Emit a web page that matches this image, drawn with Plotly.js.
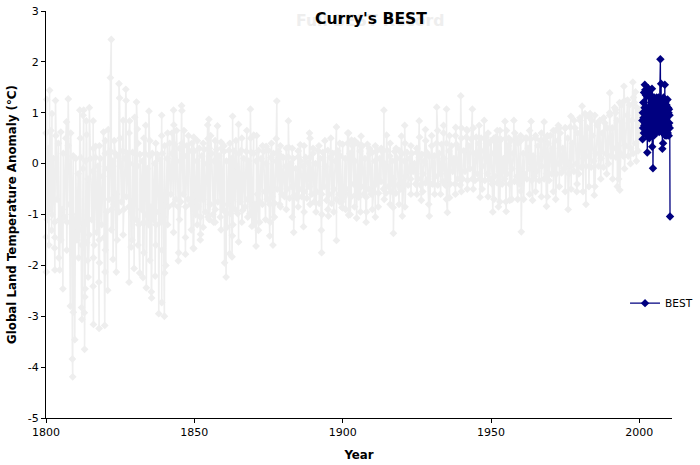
<!DOCTYPE html>
<html><head><meta charset="utf-8">
<script src="https://cdn.plot.ly/plotly-3.0.1.min.js"></script>
<style>html,body{margin:0;padding:0;background:#fff}</style></head>
<body><div id="chart" style="width:700px;height:465px"></div>
<script>
// Dense body of the full record, read decade by decade (start year, values)
const d1800=[.6,-1.1,.3,-.9,.65,-1.0,.1,-1.15,.55,-.7,.4,-1.1,.62,-.9,.2,-1.05,.5,-1.15,.35,-.8,.6,-1.0,.15,-1.1];
const d1810=[.1,-1.5,-.2,-1.3,.12,-1.6,-.1,-1.2,.05,-1.55,-.3,-1.4,.1,-1.1,-.15,-1.6,.12,-1.35,-.05,-1.5,.1,-1.2,-.25,-1.45];
const d1820=[.2,-.95,-.1,-.7,.25,-.9,.05,-.8,.2,-.6,.15,-.95,-.05,-.75,.25,-.9,.1,-.65,.2,-.85,0,-.95,.22,-.7];
const d1830=[.2,-1.1,-.05,-1.2,.18,-.9,.05,-1.15,.2,-1.0,-.1,-1.2,.15,-.85,.2,-1.1,0,-1.2,.18,-.95,.08,-1.15,.2,-1.05];
const d1840=[.35,-.8,.1,-.85,.4,-.6,.2,-.8,.38,-.7,.05,-.85,.3,-.75,.4,-.6,.15,-.85,.35,-.7,.25,-.8,.4,-.65];
const d1850=[.25,-1.0,.05,-.85,.3,-1.05,.15,-.7,.28,-.95,0,-1.05,.3,-.8,.2,-1.0,.05,-.9,.28,-.75,.15,-1.05,.3,-.9];
const d1860=[.24,-.95,.05,-.8,.26,-.98,.1,-.7,.25,-.9,-.05,-.98,.2,-.75,.26,-.92,.1,-.85,.24,-.7,.05,-.98,.22,-.8];
const d1870=[.2,-.8,.05,-.6,.26,-.75,.1,-.8,.24,-.55,0,-.7,.26,-.8,.12,-.65,.2,-.78,.05,-.5,.24,-.8,.15,-.6];
const d1880=[.12,-.65,-.05,-.5,.13,-.68,0,-.45,.1,-.62,-.1,-.68,.13,-.5,.05,-.65,-.05,-.55,.12,-.68,.02,-.45,.13,-.6];
const d1890=[.2,-.75,0,-.55,.26,-.78,.1,-.6,.22,-.45,-.05,-.72,.26,-.6,.12,-.78,.2,-.5,.05,-.7,.25,-.6,.15,-.75];
const d1900=[.38,-.66,.1,-.5,.4,-.6,.2,-.65,.35,-.4,.05,-.6,.4,-.66,.25,-.45,.35,-.6,.1,-.66,.38,-.5,.2,-.6];
const d1910=[.22,-.55,.05,-.4,.26,-.58,.1,-.35,.24,-.5,0,-.58,.26,-.45,.15,-.55,.05,-.3,.24,-.58,.1,-.42,.25,-.5];
const d1920=[.2,-.4,.05,-.25,.22,-.42,.1,-.3,.2,-.15,0,-.4,.22,-.3,.12,-.42,.18,-.2,.05,-.38,.22,-.3,.15,-.4];
const d1930=[.35,-.4,.15,-.25,.4,-.42,.2,-.2,.38,-.35,.1,-.42,.4,-.3,.25,-.4,.35,-.15,.1,-.4,.38,-.3,.3,-.42];
const d1940=[.5,-.3,.25,-.15,.52,-.33,.35,-.1,.48,-.3,.2,-.33,.52,-.2,.4,-.3,.5,-.05,.25,-.33,.52,-.2,.4,-.3];
const d1950=[.45,-.4,.2,-.25,.5,-.38,.3,-.15,.48,-.4,.1,-.3,.5,-.2,.35,-.4,.45,-.1,.2,-.35,.5,-.25,.4,-.4];
const d1960=[.45,-.33,.2,-.2,.5,-.3,.3,-.1,.48,-.33,.15,-.25,.5,-.15,.35,-.33,.45,-.05,.2,-.3,.5,-.2,.4,-.33];
const d1970=[.55,-.2,.3,-.05,.65,-.2,.45,0,.6,-.18,.3,-.1,.7,.05,.5,-.2,.72,-.05,.4,-.15,.7,0,.6,-.2];
const d1980=[.85,-.07,.5,.1,.98,-.05,.7,.15,.9,-.07,.55,.05,.95,.2,.75,-.05,.85,.1,.6,-.07,.8,.2,.7,0];
const d1990=[.95,.15,.7,.3,1.1,.13,.85,.35,1.2,.2,.8,.15,1.24,.35,.95,.15,1.15,.3,.85,.2,1.2,.4,1.1,.25];
const d2000=[1.0,.5,1.1,.6];
const decades=[[1800,d1800],[1810,d1810],[1820,d1820],[1830,d1830],[1840,d1840],[1850,d1850],[1860,d1860],[1870,d1870],[1880,d1880],[1890,d1890],[1900,d1900],[1910,d1910],[1920,d1920],[1930,d1930],[1940,d1940],[1950,d1950],[1960,d1960],[1970,d1970],[1980,d1980],[1990,d1990],[2000,d2000]];

// Individually readable spikes above the body: [year, anomaly]
const peaks=[[1800.2,1.26],[1801.2,1.44],[1802,.98],[1803.2,1.24],[1806.9,.82],[1807.5,1.27],[1811.4,1.05],[1811.6,.5],[1812.5,.95],[1812.7,1.05],[1813.6,.84],[1813.7,.57],[1814.6,1.1],[1815.9,.84],[1816.7,.34],[1819.4,.62],[1821,.67],[1821.7,1.69],[1822,2.44],[1824.6,1.57],[1824.8,1.29],[1826,.85],[1826.9,1.46],[1827,1.24],[1828.2,.84],[1829.9,.91],[1830.5,1.21],[1830.8,.68],[1833.6,.75],[1834.7,1.03],[1839,.95],[1843,1.05],[1843.1,.76],[1845.7,1.14],[1845.8,1.04],[1849.8,.52],[1854.5,.76],[1854.6,.49],[1854.9,.87],[1857.8,.74],[1859,.42],[1862.9,.93],[1864.9,.77],[1867.7,.65],[1868.9,1.07],[1870,.56],[1874.2,.34],[1877.6,.49],[1877.8,1.23],[1881.7,.84],[1881.8,.32],[1885.7,.37],[1888.8,.6],[1889,.5],[1897.9,.72],[1901.7,.6],[1902,.6],[1903,.46],[1906.2,.54],[1913.9,1.05],[1914.8,.56],[1919.8,.54],[1920.9,.75],[1925.8,.84],[1925.9,.52],[1927.9,.67],[1931.7,1.11],[1934,.6],[1935,1.07],[1938.1,.71],[1939.8,1.33],[1941.8,.67],[1943.7,1.07],[1947.7,.85],[1951.6,.52],[1952.1,.65],[1953,.65],[1954.7,.83],[1955.2,.65],[1957.7,.85],[1963,.65],[1963.5,.83],[1967.9,.82],[1972.7,.75],[1976.9,.93],[1980.7,1.13],[1983.4,.98],[1990,1.39],[1992,1.06],[1994.8,1.52],[1997.8,1.6],[1998.7,1.41]];
// Individually readable spikes below the body: [year, anomaly]
const troughs=[[1800,-1.44],[1800.1,-2.13],[1801.9,-1.31],[1802.9,-1.66],[1803,-2.09],[1804.3,-1.85],[1804.6,-2.09],[1805.7,-2.46],[1808.2,-2.8],[1808.9,-3.84],[1809,-4.19],[1809.2,-2.92],[1809.7,-3.46],[1812,-2.83],[1812.1,-3.06],[1812.9,-2.93],[1813,-3.65],[1813.1,-2.62],[1813.2,-2.46],[1814.2,-2.23],[1815.9,-2.41],[1816,-3.16],[1817.8,-2.33],[1817.9,-3.24],[1819.8,-3.18],[1819.9,-2.13],[1820.8,-2.49],[1822.6,-1.88],[1823.7,-2.13],[1828,-2.33],[1828.7,-1.64],[1829.7,-2.06],[1831.6,-2.15],[1832.7,-2.24],[1833.8,-2.44],[1835.5,-2.52],[1835.6,-2.64],[1836.8,-2.21],[1838,-2.95],[1839,-2.73],[1839.9,-3.0],[1840,-2.15],[1840.4,-2.0],[1844.6,-1.91],[1844.7,-1.75],[1847,-1.78],[1849.6,-1.66],[1849.8,-1.67],[1852,-1.5],[1852.1,-1.39],[1856.5,-1.15],[1860.2,-1.95],[1860.7,-2.23],[1861.9,-1.77],[1862.7,-1.83],[1862.8,-1.42],[1864.9,-1.54],[1869.4,-1.23],[1870.8,-1.62],[1871.6,-1.31],[1875.4,-1.42],[1875.6,-1.15],[1876.5,-1.6],[1883.5,-1.35],[1886.8,-1.24],[1892.8,-1.31],[1892.9,-1.75],[1895.2,-1.03],[1897.9,-1.51],[1899.8,-.86],[1900,-.87],[1902,-1.01],[1902.5,-1.0],[1904.7,-1.07],[1907.9,-1.15],[1911,-1.05],[1917,-.86],[1917.1,-1.37],[1920.1,-1.03],[1926.5,-.72],[1929.2,-1.03],[1935.3,-.96],[1936,-.67],[1946.3,-.66],[1950.6,-.95],[1952.5,-.85],[1955.1,-.94],[1956.3,-.72],[1960,-.54],[1960.2,-1.34],[1964,-.72],[1968.7,-.84],[1971.8,-.7],[1976,-.9],[1978.9,-.55],[1982,-.8],[1984.8,-.62],[1992.6,-.45],[1993.4,-.52]];
// Shoulders just outside the body, which give its jagged edge: [year, anomaly]
const upperEdge=[[1816,.3],[1818,.35],[1820,.45],[1823,.45],[1825,.5],[1828,.6],[1831,.4],[1833,.5],[1835,.45],[1837,.4],[1839,.55],[1841,.6],[1842.5,.6],[1844,.65],[1846.5,.65],[1848,.55],[1851,.45],[1853,.4],[1855.5,.55],[1857,.45],[1860,.35],[1862,.4],[1864,.45],[1866,.5],[1869,.5],[1871,.55],[1873,.35],[1876,.4],[1879,.35],[1881,.3],[1883,.3],[1885,.25],[1887,.35],[1890,.3],[1892,.35],[1894,.45],[1896,.5],[1899,.4],[1904,.45],[1906,.35],[1909,.3],[1911,.35],[1913,.3],[1916,.4],[1918,.3],[1921,.4],[1923,.35],[1925,.3],[1928,.45],[1930,.55],[1932,.65],[1934,.75],[1936,.55],[1938,.55],[1940,.7],[1942,.65],[1944,.7],[1946,.75],[1949,.6],[1951,.5],[1953,.45],[1956,.5],[1958,.6],[1960,.55],[1962,.5],[1965,.55],[1967,.6],[1969,.55],[1971,.65],[1973,.7],[1975,.7],[1978,.85],[1980,.9],[1982,.95],[1984,.85],[1986,.8],[1988,.9],[1990,1.0],[1992,1.0],[1994,1.15],[1996,1.25],[1998,1.3]];
const lowerEdge=[[1801,-1.6],[1803,-1.45],[1805,-1.5],[1807,-1.7],[1809,-1.8],[1811,-1.85],[1814,-1.9],[1816,-1.85],[1818,-1.95],[1820,-1.7],[1822,-1.3],[1824,-1.5],[1826,-1.4],[1829,-1.5],[1831,-1.6],[1833,-1.75],[1835,-1.9],[1837,-1.6],[1839,-1.7],[1841,-1.2],[1843,-1.35],[1845,-1.1],[1847,-1.45],[1849,-1.3],[1851,-1.2],[1853,-1.25],[1855,-1.1],[1857,-1.15],[1859,-1.3],[1861,-1.25],[1863,-1.2],[1866,-1.15],[1868,-1.05],[1870,-1.2],[1872,-1.15],[1874,-1.1],[1877,-1.05],[1879,-.85],[1881,-.9],[1883,-1.05],[1885,-.85],[1887,-.95],[1889,-.8],[1891,-.95],[1893,-1.0],[1895,-.9],[1897,-.95],[1899,-.75],[1901,-.9],[1904,-.85],[1906,-.95],[1908,-.95],[1910,-.9],[1912,-.85],[1914,-.7],[1916,-.8],[1919,-.8],[1921,-.85],[1923,-.6],[1925,-.6],[1927,-.55],[1929,-.8],[1931,-.6],[1933,-.6],[1935,-.7],[1938,-.6],[1940,-.55],[1942,-.5],[1944,-.5],[1947,-.5],[1949,-.65],[1951,-.7],[1953,-.75],[1955,-.75],[1957,-.7],[1959,-.7],[1961,-.7],[1963,-.6],[1965,-.55],[1967,-.65],[1969,-.65],[1971,-.55],[1973,-.45],[1975,-.55],[1977,-.5],[1979,-.4],[1981,-.55],[1983,-.45],[1985,-.45],[1987,-.3],[1989,-.2],[1991,-.3],[1993,-.3],[1995,-.1],[1997,0],[1999,.05]];

// BEST monthly values, Jan 2001 to May 2010
const best2001=[.85,.48,1.0,.7,1.2,.9,.6,1.4,.75,1.1,1.55,.8];
const best2002=[1.45,.9,1.35,.6,1.4,.85,.55,1.1,.22,.7,1.0,.75];
const best2003=[1.48,1.0,.7,1.4,.5,.9,1.3,.75,1.1,.6,1.35,.95];
const best2004=[1.2,.7,1.0,1.47,.33,.8,1.1,-.09,.6,1.05,.9,.55];
const best2005=[1.3,.8,1.15,.65,1.0,.6,1.25,.9,1.1,.7,1.3,.85];
const best2006=[.95,.65,1.2,.8,1.05,.7,1.3,.9,.62,1.1,.75,1.25];
const best2007=[1.25,2.05,.9,1.1,1.57,.7,1.2,.62,1.0,.29,.85,1.15];
const best2008=[.4,.85,1.3,.6,1.1,.75,1.0,1.55,.55,1.2,.8,.6];
const best2009=[.95,.7,1.15,.55,1.0,.8,1.26,.6,1.1,.75,1.0,.55];
const best2010=[1.07,.8,.95,.7,-1.04];
const bestStartYear=2001;

const xTicks=[1800,1850,1900,1950,2000];
const yTicks=[-5,-4,-3,-2,-1,0,1,2,3];
const yTickLabels=['-5','-4','-3','-2','-1','0','1','2','3'];

const full=[];
decades.forEach(([start,vals])=>vals.forEach((v,i)=>full.push([start+i*10/24,v])));
peaks.concat(troughs,upperEdge,lowerEdge).forEach(p=>full.push(p));
full.sort((a,b)=>a[0]-b[0]);

const bestVals=[].concat(best2001,best2002,best2003,best2004,best2005,best2006,best2007,best2008,best2009,best2010);
const bestYears=bestVals.map((_,i)=>bestStartYear+i/12);

const font='"DejaVu Sans", Verdana, sans-serif';
const W=700,H=465,L=45.5,R=672,T=10.5,B=418;
const data=[
 {type:'scatter',mode:'lines+markers',name:'Full record',showlegend:false,hoverinfo:'skip',
  x:full.map(p=>p[0]),y:full.map(p=>p[1]),cliponaxis:false,
  line:{color:'#eeeeee',width:1.6},marker:{symbol:'diamond',size:6,color:'#eeeeee'}},
 {type:'scatter',mode:'lines+markers',name:'BEST',cliponaxis:false,
  x:bestYears,y:bestVals,
  line:{color:'#000080',width:1.3},marker:{symbol:'diamond',size:6.5,color:'#000080'}}
];
const layout={
 width:W,height:H,paper_bgcolor:'#fff',plot_bgcolor:'#fff',
 margin:{l:L,r:W-R,t:T,b:H-B,pad:0,autoexpand:false},
 font:{family:font,size:11,color:'#000'},
 title:{text:"Curry's BEST",font:{family:font,size:15.6,color:'#000',weight:'bold'},
   x:371/W,xanchor:'center',y:1-19/H,yanchor:'middle'},
 xaxis:{range:[1800,2011],tickmode:'array',tickvals:xTicks,ticks:'outside',ticklen:4,tickwidth:1,tickcolor:'#000',
   showline:true,linecolor:'#000',linewidth:1,showgrid:false,zeroline:false,
   tickfont:{family:font,size:11,color:'#000'},
   title:{text:'Year',font:{family:font,size:11.8,color:'#000',weight:'bold'},standoff:12}},
 yaxis:{range:[-5,3],tickmode:'array',tickvals:yTicks,ticktext:yTickLabels,ticks:'outside',ticklen:4,tickwidth:1,tickcolor:'#000',
   showline:true,linecolor:'#000',linewidth:1,showgrid:false,zeroline:false,
   tickfont:{family:font,size:11,color:'#000'},
   title:{text:'Global Land Temperature Anomaly (°C)',font:{family:font,size:11.8,color:'#000',weight:'bold'},standoff:8}},
 legend:{x:(625-L)/(R-L),xanchor:'left',y:(B-303)/(B-T),yanchor:'middle',bgcolor:'rgba(0,0,0,0)',borderwidth:0,
   font:{family:font,size:10.6,color:'#000'},itemwidth:30},
 shapes:[{type:'rect',xref:'paper',yref:'paper',x0:(296-L)/(R-L),x1:(444-L)/(R-L),y0:(B-28)/(B-T),y1:(B-10)/(B-T),
   line:{width:0},fillcolor:'rgba(0,0,0,0)',layer:'below',
   label:{text:'Full BEST Record',textposition:'middle center',font:{family:font,size:15.6,color:'#eeeeee',weight:'bold'}}}]
};
Plotly.newPlot('chart',data,layout,{displayModeBar:false,staticPlot:true});
</script></body></html>
